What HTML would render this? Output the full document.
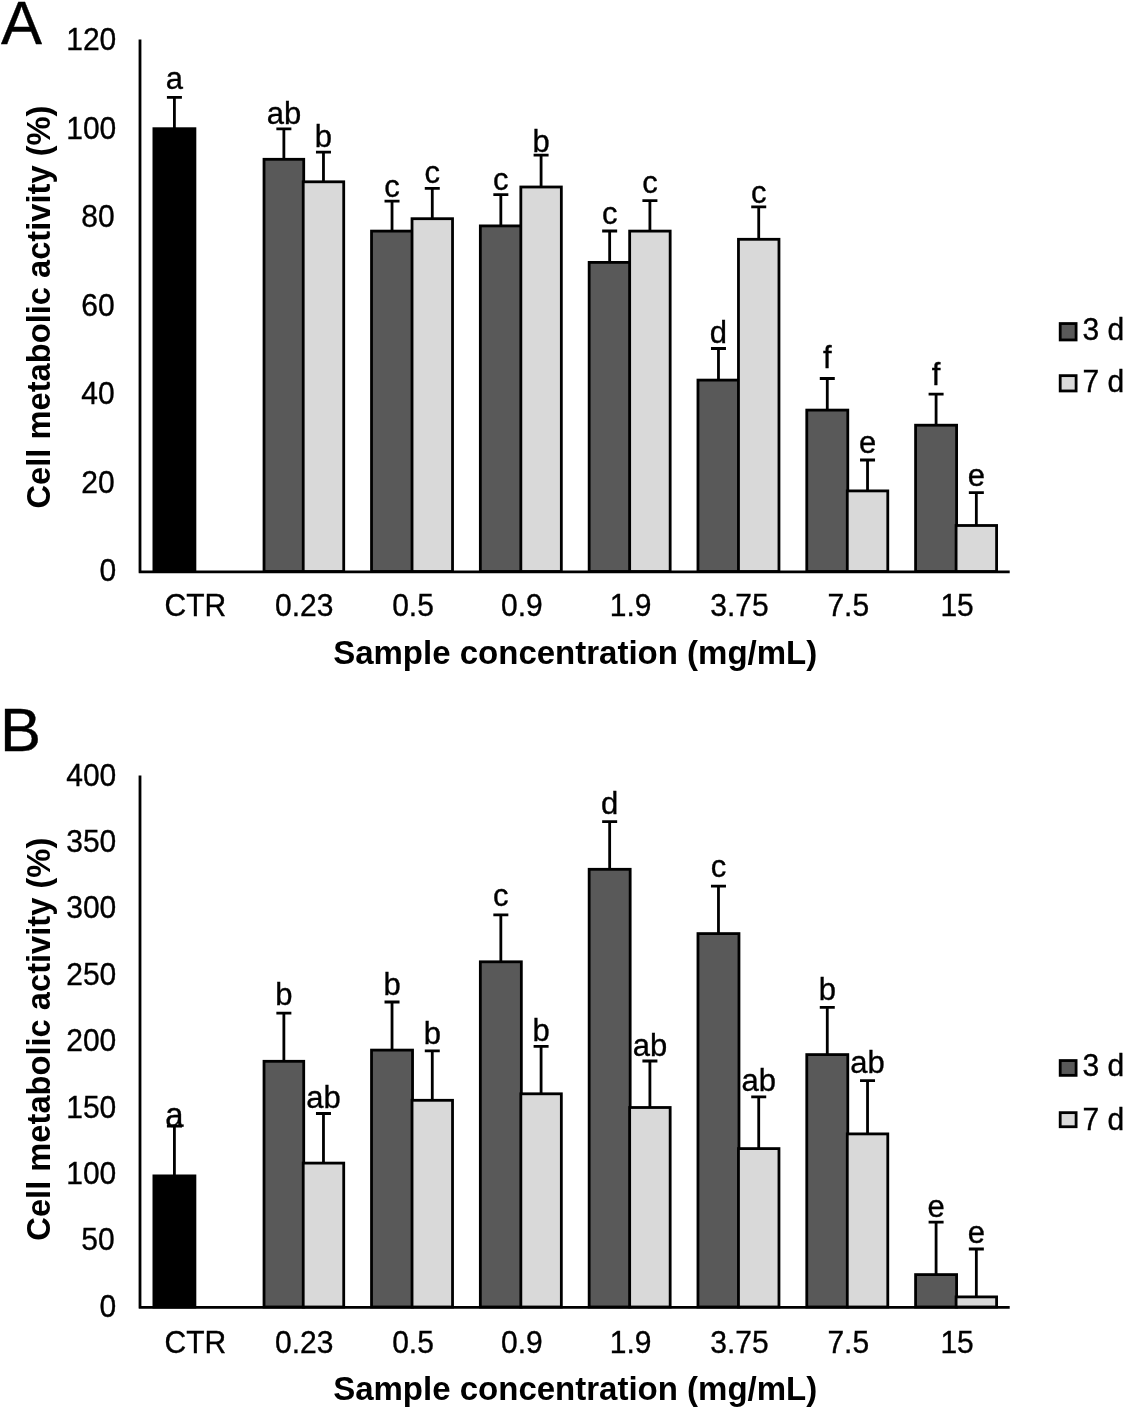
<!DOCTYPE html>
<html><head><meta charset="utf-8"><style>
html,body{margin:0;padding:0;background:#fff;width:1125px;height:1408px;overflow:hidden}
svg{display:block;will-change:transform}
text{font-family:'Liberation Sans', sans-serif;fill:#000} .r text{stroke:#000;stroke-width:0.35px}
</style></head><body>
<svg width="1125" height="1408" viewBox="0 0 1125 1408">
<rect width="1125" height="1408" fill="#fff"/>
<g class="r">
<text x="1" y="44.0" font-size="61.5" fill="#000">A</text>
<text transform="translate(116.30 581.00) scale(1 1.06)" font-size="30" text-anchor="end">0</text>
<text transform="translate(114.60 492.51) scale(1 1.06)" font-size="30" text-anchor="end">20</text>
<text transform="translate(114.60 404.02) scale(1 1.06)" font-size="30" text-anchor="end">40</text>
<text transform="translate(114.60 315.52) scale(1 1.06)" font-size="30" text-anchor="end">60</text>
<text transform="translate(114.60 227.03) scale(1 1.06)" font-size="30" text-anchor="end">80</text>
<text transform="translate(116.30 138.54) scale(1 1.06)" font-size="30" text-anchor="end">100</text>
<text transform="translate(116.30 50.05) scale(1 1.06)" font-size="30" text-anchor="end">120</text>
<rect x="153.91" y="128.70" width="41.00" height="442.80" fill="#000" stroke="#000" stroke-width="2.8"/>
<path d="M174.41 128.70V97.30M166.91 97.30H181.91" stroke="#000" stroke-width="2.8" fill="none"/>
<text transform="translate(174.41 89.40) scale(1 1)" font-size="31" text-anchor="middle">a</text>
<rect x="264.02" y="159.30" width="39.70" height="412.20" fill="#595959" stroke="#000" stroke-width="2.8"/>
<path d="M283.87 159.30V128.90M276.37 128.90H291.37" stroke="#000" stroke-width="2.8" fill="none"/>
<text transform="translate(283.87 123.80) scale(1 1)" font-size="31" text-anchor="middle">ab</text>
<rect x="303.22" y="181.80" width="40.50" height="389.70" fill="#d9d9d9" stroke="#000" stroke-width="2.8"/>
<path d="M323.47 181.80V152.10M315.97 152.10H330.97" stroke="#000" stroke-width="2.8" fill="none"/>
<text transform="translate(323.47 146.80) scale(1 1)" font-size="31" text-anchor="middle">b</text>
<rect x="371.53" y="231.10" width="41.00" height="340.40" fill="#595959" stroke="#000" stroke-width="2.8"/>
<path d="M392.03 231.10V201.20M384.53 201.20H399.53" stroke="#000" stroke-width="2.8" fill="none"/>
<text transform="translate(392.03 197.40) scale(1 1)" font-size="31" text-anchor="middle">c</text>
<rect x="412.03" y="218.70" width="40.50" height="352.80" fill="#d9d9d9" stroke="#000" stroke-width="2.8"/>
<path d="M432.28 218.70V188.40M424.78 188.40H439.78" stroke="#000" stroke-width="2.8" fill="none"/>
<text transform="translate(432.28 183.20) scale(1 1)" font-size="31" text-anchor="middle">c</text>
<rect x="480.34" y="225.90" width="41.00" height="345.60" fill="#595959" stroke="#000" stroke-width="2.8"/>
<path d="M500.84 225.90V194.70M493.34 194.70H508.34" stroke="#000" stroke-width="2.8" fill="none"/>
<text transform="translate(500.84 190.00) scale(1 1)" font-size="31" text-anchor="middle">c</text>
<rect x="520.84" y="187.00" width="40.50" height="384.50" fill="#d9d9d9" stroke="#000" stroke-width="2.8"/>
<path d="M541.09 187.00V155.20M533.59 155.20H548.59" stroke="#000" stroke-width="2.8" fill="none"/>
<text transform="translate(541.09 152.10) scale(1 1)" font-size="31" text-anchor="middle">b</text>
<rect x="589.16" y="262.40" width="41.00" height="309.10" fill="#595959" stroke="#000" stroke-width="2.8"/>
<path d="M609.66 262.40V231.00M602.16 231.00H617.16" stroke="#000" stroke-width="2.8" fill="none"/>
<text transform="translate(609.66 223.90) scale(1 1)" font-size="31" text-anchor="middle">c</text>
<rect x="629.66" y="231.10" width="40.50" height="340.40" fill="#d9d9d9" stroke="#000" stroke-width="2.8"/>
<path d="M649.91 231.10V200.70M642.41 200.70H657.41" stroke="#000" stroke-width="2.8" fill="none"/>
<text transform="translate(649.91 192.60) scale(1 1)" font-size="31" text-anchor="middle">c</text>
<rect x="697.97" y="380.10" width="41.00" height="191.40" fill="#595959" stroke="#000" stroke-width="2.8"/>
<path d="M718.47 380.10V348.50M710.97 348.50H725.97" stroke="#000" stroke-width="2.8" fill="none"/>
<text transform="translate(718.47 343.10) scale(1 1)" font-size="31" text-anchor="middle">d</text>
<rect x="738.47" y="239.30" width="40.50" height="332.20" fill="#d9d9d9" stroke="#000" stroke-width="2.8"/>
<path d="M758.72 239.30V206.80M751.22 206.80H766.22" stroke="#000" stroke-width="2.8" fill="none"/>
<text transform="translate(758.72 203.30) scale(1 1)" font-size="31" text-anchor="middle">c</text>
<rect x="806.78" y="410.10" width="41.00" height="161.40" fill="#595959" stroke="#000" stroke-width="2.8"/>
<path d="M827.28 410.10V378.50M819.78 378.50H834.78" stroke="#000" stroke-width="2.8" fill="none"/>
<text transform="translate(827.28 368.10) scale(1 1)" font-size="31" text-anchor="middle">f</text>
<rect x="847.28" y="490.90" width="40.50" height="80.60" fill="#d9d9d9" stroke="#000" stroke-width="2.8"/>
<path d="M867.53 490.90V460.00M860.03 460.00H875.03" stroke="#000" stroke-width="2.8" fill="none"/>
<text transform="translate(867.53 453.30) scale(1 1)" font-size="31" text-anchor="middle">e</text>
<rect x="915.59" y="425.20" width="41.00" height="146.30" fill="#595959" stroke="#000" stroke-width="2.8"/>
<path d="M936.09 425.20V394.10M928.59 394.10H943.59" stroke="#000" stroke-width="2.8" fill="none"/>
<text transform="translate(936.09 384.80) scale(1 1)" font-size="31" text-anchor="middle">f</text>
<rect x="956.09" y="525.50" width="40.50" height="46.00" fill="#d9d9d9" stroke="#000" stroke-width="2.8"/>
<path d="M976.34 525.50V492.70M968.84 492.70H983.84" stroke="#000" stroke-width="2.8" fill="none"/>
<text transform="translate(976.34 485.60) scale(1 1)" font-size="31" text-anchor="middle">e</text>
<path d="M140.0 39.5V572.75M138.75 571.8H1009.7" stroke="#000" stroke-width="2.8" fill="none"/>
<text transform="translate(195.41 615.5) scale(1 1.06)" font-size="30" text-anchor="middle">CTR</text>
<text transform="translate(304.22 615.5) scale(1 1.06)" font-size="30" text-anchor="middle">0.23</text>
<text transform="translate(413.03 615.5) scale(1 1.06)" font-size="30" text-anchor="middle">0.5</text>
<text transform="translate(521.84 615.5) scale(1 1.06)" font-size="30" text-anchor="middle">0.9</text>
<text transform="translate(630.66 615.5) scale(1 1.06)" font-size="30" text-anchor="middle">1.9</text>
<text transform="translate(739.47 615.5) scale(1 1.06)" font-size="30" text-anchor="middle">3.75</text>
<text transform="translate(848.28 615.5) scale(1 1.06)" font-size="30" text-anchor="middle">7.5</text>
<text transform="translate(957.09 615.5) scale(1 1.06)" font-size="30" text-anchor="middle">15</text>
<text x="575.2" y="664.0" font-size="33" font-weight="bold" text-anchor="middle" style="stroke:none">Sample concentration (mg/mL)</text>
<text transform="translate(49.5 307.0) rotate(-90) scale(0.99 1)" x="0" y="0" font-size="33" font-weight="bold" text-anchor="middle" style="stroke:none">Cell metabolic activity (%)</text>
<rect x="1060.2" y="323.55" width="15.9" height="16.40" fill="#595959" stroke="#000" stroke-width="2.8"/>
<text transform="translate(1082.5 340.20) scale(1 1.06)" font-size="30">3 d</text>
<rect x="1060.2" y="375.65" width="15.9" height="15.30" fill="#d9d9d9" stroke="#000" stroke-width="2.8"/>
<text transform="translate(1082.5 392.30) scale(1 1.06)" font-size="30">7 d</text>
<text x="0" y="750.6" font-size="61.5" fill="#000">B</text>
<text transform="translate(116.30 1316.90) scale(1 1.06)" font-size="30" text-anchor="end">0</text>
<text transform="translate(114.60 1250.49) scale(1 1.06)" font-size="30" text-anchor="end">50</text>
<text transform="translate(116.30 1184.08) scale(1 1.06)" font-size="30" text-anchor="end">100</text>
<text transform="translate(116.30 1117.66) scale(1 1.06)" font-size="30" text-anchor="end">150</text>
<text transform="translate(116.30 1051.25) scale(1 1.06)" font-size="30" text-anchor="end">200</text>
<text transform="translate(116.30 984.84) scale(1 1.06)" font-size="30" text-anchor="end">250</text>
<text transform="translate(116.30 918.43) scale(1 1.06)" font-size="30" text-anchor="end">300</text>
<text transform="translate(116.30 852.01) scale(1 1.06)" font-size="30" text-anchor="end">350</text>
<text transform="translate(116.30 785.60) scale(1 1.06)" font-size="30" text-anchor="end">400</text>
<rect x="153.91" y="1175.90" width="41.00" height="131.10" fill="#000" stroke="#000" stroke-width="2.8"/>
<path d="M174.41 1175.90V1126.20M166.91 1126.20H181.91" stroke="#000" stroke-width="2.8" fill="none"/>
<text transform="translate(174.41 1127.10) scale(1.06 1.13)" font-size="31" text-anchor="middle">a</text>
<rect x="264.02" y="1061.30" width="39.70" height="245.70" fill="#595959" stroke="#000" stroke-width="2.8"/>
<path d="M283.87 1061.30V1013.20M276.37 1013.20H291.37" stroke="#000" stroke-width="2.8" fill="none"/>
<text transform="translate(283.87 1005.10) scale(1 1)" font-size="31" text-anchor="middle">b</text>
<rect x="303.22" y="1163.10" width="40.50" height="143.90" fill="#d9d9d9" stroke="#000" stroke-width="2.8"/>
<path d="M323.47 1163.10V1113.50M315.97 1113.50H330.97" stroke="#000" stroke-width="2.8" fill="none"/>
<text transform="translate(323.47 1108.40) scale(1 1)" font-size="31" text-anchor="middle">ab</text>
<rect x="371.53" y="1050.10" width="41.00" height="256.90" fill="#595959" stroke="#000" stroke-width="2.8"/>
<path d="M392.03 1050.10V1002.00M384.53 1002.00H399.53" stroke="#000" stroke-width="2.8" fill="none"/>
<text transform="translate(392.03 995.30) scale(1 1)" font-size="31" text-anchor="middle">b</text>
<rect x="412.03" y="1100.30" width="40.50" height="206.70" fill="#d9d9d9" stroke="#000" stroke-width="2.8"/>
<path d="M432.28 1100.30V1050.90M424.78 1050.90H439.78" stroke="#000" stroke-width="2.8" fill="none"/>
<text transform="translate(432.28 1044.10) scale(1 1)" font-size="31" text-anchor="middle">b</text>
<rect x="480.34" y="961.80" width="41.00" height="345.20" fill="#595959" stroke="#000" stroke-width="2.8"/>
<path d="M500.84 961.80V914.90M493.34 914.90H508.34" stroke="#000" stroke-width="2.8" fill="none"/>
<text transform="translate(500.84 906.20) scale(1 1)" font-size="31" text-anchor="middle">c</text>
<rect x="520.84" y="1093.80" width="40.50" height="213.20" fill="#d9d9d9" stroke="#000" stroke-width="2.8"/>
<path d="M541.09 1093.80V1046.40M533.59 1046.40H548.59" stroke="#000" stroke-width="2.8" fill="none"/>
<text transform="translate(541.09 1041.10) scale(1 1)" font-size="31" text-anchor="middle">b</text>
<rect x="589.16" y="869.30" width="41.00" height="437.70" fill="#595959" stroke="#000" stroke-width="2.8"/>
<path d="M609.66 869.30V821.60M602.16 821.60H617.16" stroke="#000" stroke-width="2.8" fill="none"/>
<text transform="translate(609.66 813.70) scale(1 1)" font-size="31" text-anchor="middle">d</text>
<rect x="629.66" y="1107.50" width="40.50" height="199.50" fill="#d9d9d9" stroke="#000" stroke-width="2.8"/>
<path d="M649.91 1107.50V1061.00M642.41 1061.00H657.41" stroke="#000" stroke-width="2.8" fill="none"/>
<text transform="translate(649.91 1055.80) scale(1 1)" font-size="31" text-anchor="middle">ab</text>
<rect x="697.97" y="933.60" width="41.00" height="373.40" fill="#595959" stroke="#000" stroke-width="2.8"/>
<path d="M718.47 933.60V886.20M710.97 886.20H725.97" stroke="#000" stroke-width="2.8" fill="none"/>
<text transform="translate(718.47 876.90) scale(1 1)" font-size="31" text-anchor="middle">c</text>
<rect x="738.47" y="1148.60" width="40.50" height="158.40" fill="#d9d9d9" stroke="#000" stroke-width="2.8"/>
<path d="M758.72 1148.60V1096.80M751.22 1096.80H766.22" stroke="#000" stroke-width="2.8" fill="none"/>
<text transform="translate(758.72 1091.10) scale(1 1)" font-size="31" text-anchor="middle">ab</text>
<rect x="806.78" y="1054.60" width="41.00" height="252.40" fill="#595959" stroke="#000" stroke-width="2.8"/>
<path d="M827.28 1054.60V1007.30M819.78 1007.30H834.78" stroke="#000" stroke-width="2.8" fill="none"/>
<text transform="translate(827.28 999.80) scale(1 1)" font-size="31" text-anchor="middle">b</text>
<rect x="847.28" y="1133.90" width="40.50" height="173.10" fill="#d9d9d9" stroke="#000" stroke-width="2.8"/>
<path d="M867.53 1133.90V1080.70M860.03 1080.70H875.03" stroke="#000" stroke-width="2.8" fill="none"/>
<text transform="translate(867.53 1072.70) scale(1 1)" font-size="31" text-anchor="middle">ab</text>
<rect x="915.59" y="1274.60" width="41.00" height="32.40" fill="#595959" stroke="#000" stroke-width="2.8"/>
<path d="M936.09 1274.60V1222.20M928.59 1222.20H943.59" stroke="#000" stroke-width="2.8" fill="none"/>
<text transform="translate(936.09 1217.20) scale(1 1)" font-size="31" text-anchor="middle">e</text>
<rect x="956.09" y="1296.90" width="40.50" height="10.10" fill="#d9d9d9" stroke="#000" stroke-width="2.8"/>
<path d="M976.34 1296.90V1249.00M968.84 1249.00H983.84" stroke="#000" stroke-width="2.8" fill="none"/>
<text transform="translate(976.34 1242.80) scale(1 1)" font-size="31" text-anchor="middle">e</text>
<path d="M140.0 775.5V1308.25M138.75 1307.3H1009.7" stroke="#000" stroke-width="2.8" fill="none"/>
<text transform="translate(195.41 1352.6) scale(1 1.06)" font-size="30" text-anchor="middle">CTR</text>
<text transform="translate(304.22 1352.6) scale(1 1.06)" font-size="30" text-anchor="middle">0.23</text>
<text transform="translate(413.03 1352.6) scale(1 1.06)" font-size="30" text-anchor="middle">0.5</text>
<text transform="translate(521.84 1352.6) scale(1 1.06)" font-size="30" text-anchor="middle">0.9</text>
<text transform="translate(630.66 1352.6) scale(1 1.06)" font-size="30" text-anchor="middle">1.9</text>
<text transform="translate(739.47 1352.6) scale(1 1.06)" font-size="30" text-anchor="middle">3.75</text>
<text transform="translate(848.28 1352.6) scale(1 1.06)" font-size="30" text-anchor="middle">7.5</text>
<text transform="translate(957.09 1352.6) scale(1 1.06)" font-size="30" text-anchor="middle">15</text>
<text x="575.2" y="1399.5" font-size="33" font-weight="bold" text-anchor="middle" style="stroke:none">Sample concentration (mg/mL)</text>
<text transform="translate(49.5 1039.2) rotate(-90) scale(0.99 1)" x="0" y="0" font-size="33" font-weight="bold" text-anchor="middle" style="stroke:none">Cell metabolic activity (%)</text>
<rect x="1060.2" y="1060.55" width="15.9" height="14.80" fill="#595959" stroke="#000" stroke-width="2.8"/>
<text transform="translate(1082.5 1075.70) scale(1 1.06)" font-size="30">3 d</text>
<rect x="1060.2" y="1112.65" width="15.9" height="14.10" fill="#d9d9d9" stroke="#000" stroke-width="2.8"/>
<text transform="translate(1082.5 1129.70) scale(1 1.06)" font-size="30">7 d</text>
</g>
</svg>
</body></html>
